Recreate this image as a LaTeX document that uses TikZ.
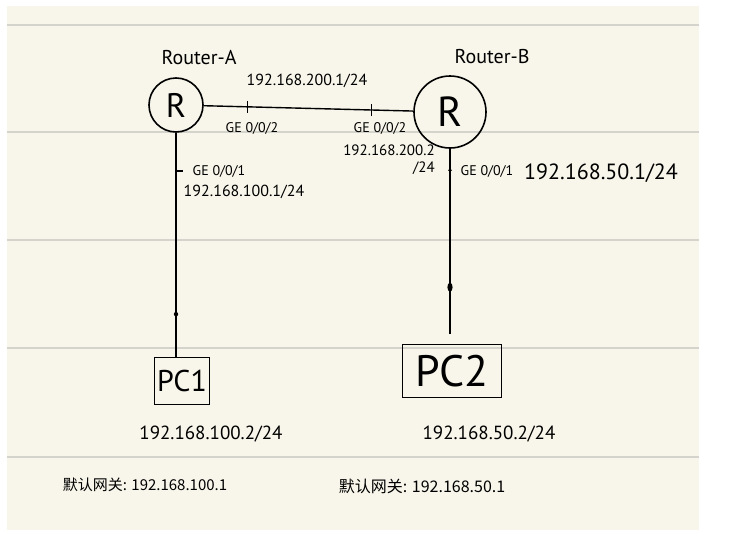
\documentclass[tikz,border=0pt]{standalone}
\usepackage{fontspec}
\setmainfont{PT Sans}
\newfontfamily\cjk{Noto Sans CJK SC}
\definecolor{paper}{HTML}{F8F6EA}
\definecolor{ruleline}{HTML}{D5D4CC}

\begin{document}
\begin{tikzpicture}[x=1pt, y=-1pt,
  router/.style={draw, circle, line width=1.6pt, inner sep=0pt},
  pcbox/.style={draw, line width=1.6pt, inner sep=0pt},
  wire/.style={line width=1.4pt},
  port/.style={font=\fontsize{14}{15}\selectfont},
  addr/.style={font=\fontsize{16}{17}\selectfont},
  bigaddr/.style={font=\fontsize{19}{20}\selectfont},
  devlabel/.style={font=\fontsize{20}{21}\selectfont}
]
  % notebook page
  \useasboundingbox (0,0) rectangle (737,533);
  \fill[white] (0,0) rectangle (737,533);
  \fill[paper] (7,6) rectangle (699,530);
  \foreach \y in {25,132,240,348,457}
    \draw[ruleline, line width=2pt] (7,\y) -- (699,\y);

  % devices
  \node[router, minimum size=54pt, font=\fontsize{34}{34}\selectfont] (rA) at (176,105) {R};
  \node[router, minimum size=72pt, font=\fontsize{42}{42}\selectfont] (rB) at (450,112) {R};
  \node[pcbox, minimum width=55pt, minimum height=47pt, font=\fontsize{30}{30}\selectfont] (pc1) at (182,381) {PC1};
  \node[pcbox, minimum width=99pt, minimum height=53pt, font=\fontsize{44}{44}\selectfont] (pc2) at (452,371) {PC2};

  \node[devlabel] (nameA) at (199,58) {Router-A};
  \node[devlabel] (nameB) at (492,57) {Router-B};

  % links
  \draw[wire] (rA) -- coordinate[pos=0.21] (tA) coordinate[pos=0.8] (tB) (rB);
  \draw[wire] (tA) +(0,-6) -- +(0,6);
  \draw[wire] (tB) +(0,-6) -- +(0,6);
  \draw[wire] (rA.south) -- coordinate[pos=0.17] (tA1) coordinate[pos=0.81] (dotA) (rA.south |- pc1.north);
  \draw[wire] (tA1) -- +(7,0);
  \fill (dotA) circle (2.2);
  \draw[wire, shorten >=10pt] (rB.south) -- coordinate[pos=0.11] (tB1) coordinate[pos=0.71] (dotB) (rB.south |- pc2.north);
  \fill (tB1) circle (1.8);
  \fill (dotB) ellipse (2.6 and 4.5);

  % interface labels
  \node[addr] (ipAB) at (307,81) {192.168.200.1/24};
  \node[port] (geA2) at (252,128) {GE 0/0/2};
  \node[port] (geB2) at (380,128) {GE 0/0/2};
  \node[addr, align=right, font=\fontsize{15}{17}\selectfont] (ipB2) at (389,160) {192.168.200.2\\/24};
  \node[port] (geA1) at (219,171) {GE 0/0/1};
  \node[addr] (ipA1) at (244,192) {192.168.100.1/24};
  \node[port] (geB1) at (487,171) {GE 0/0/1};
  \node[bigaddr, font=\fontsize{22}{22}\selectfont] (ipB1) at (601,173) {192.168.50.1/24};

  % hosts
  \node[bigaddr] (ipPC1) at (211,434) {192.168.100.2/24};
  \node[bigaddr] (ipPC2) at (489,434) {192.168.50.2/24};
  \node[font=\cjk\fontsize{15}{16}\selectfont] (gw1) at (145,485) {默认网关: 192.168.100.1};
  \node[font=\cjk\fontsize{16}{17}\selectfont] (gw2) at (422,486) {默认网关: 192.168.50.1};
\end{tikzpicture}
\end{document}
